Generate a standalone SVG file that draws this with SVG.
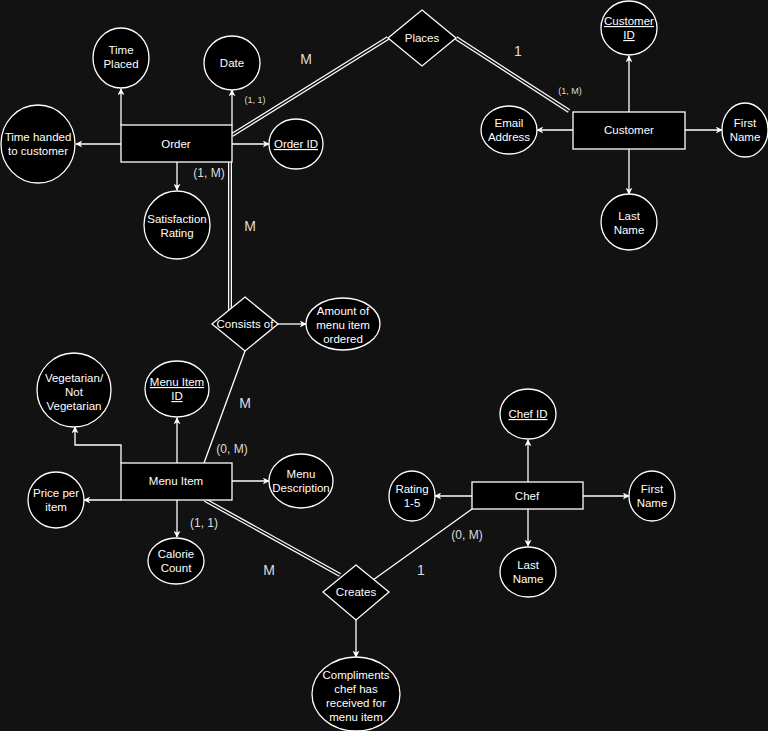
<svg xmlns="http://www.w3.org/2000/svg" width="768" height="731" viewBox="0 0 768 731">
<defs>
<marker id="ar" viewBox="0 0 10 10" refX="9" refY="5" markerWidth="7" markerHeight="7" orient="auto" markerUnits="userSpaceOnUse"><path d="M0,0 L10,5 L0,10 L3,5 Z" fill="#fff"/></marker>
<style>
.s{fill:#000;stroke:#fff;stroke-width:1.3}
.l{stroke:#fff;stroke-width:1.3;fill:none}
.a{stroke:#fff;stroke-width:1.3;fill:none;marker-end:url(#ar)}
.dbo{stroke:#fff;stroke-width:4;fill:none}
.dbi{stroke:#121212;stroke-width:1.5;fill:none}
text{font-family:"Liberation Sans",Arial,sans-serif;font-size:11.5px;fill:#fff;text-anchor:middle}
.u{text-decoration:underline}
.c{fill:#ddd;font-size:12px}
.m{fill:#ddd;font-size:14px}
.sm{fill:#ddd;font-size:9px}
</style>
</defs>
<rect width="768" height="731" fill="#121212"/>
<g id="connectors">
<path class="dbo" d="M232,135 L388,38"/><path class="dbi" d="M232,135 L388,38"/>
<path class="dbo" d="M456,38 L569,111"/><path class="dbi" d="M456,38 L569,111"/>
<path class="dbo" d="M230,162 L230,310"/><path class="dbi" d="M230,162 L230,310"/>
<path class="dbo" d="M205,500 L340,575"/><path class="dbi" d="M205,500 L340,575"/>
<path class="l" d="M245,351 L204,463"/>
<path class="l" d="M472,509 L373,580"/>
<path class="a" d="M121,125 L121,89"/>
<path class="a" d="M232,125 L232,90"/>
<path class="a" d="M121,144 L76,144"/>
<path class="a" d="M232,144 L269,144"/>
<path class="a" d="M177,162 L177,190"/>
<path class="a" d="M629,112 L629,56"/>
<path class="a" d="M573,130 L537,130"/>
<path class="a" d="M685,130 L722,130"/>
<path class="a" d="M629,149 L629,194"/>
<path class="a" d="M278,324 L306,324"/>
<path class="a" d="M121,463 L121,445 L75,445 L75,427"/>
<path class="a" d="M177,463 L177,418"/>
<path class="a" d="M121,500 L84,500"/>
<path class="a" d="M232,481 L269,481"/>
<path class="a" d="M177,500 L177,537"/>
<path class="a" d="M528,482 L528,440"/>
<path class="a" d="M472,496 L435,496"/>
<path class="a" d="M583,496 L629,496"/>
<path class="a" d="M528,509 L528,546"/>
<path class="a" d="M356,620 L356,657"/>
</g>
<g id="labels">
<text class="sm" x="255" y="103">(1, 1)</text>
<text class="c" x="209" y="177">(1, M)</text>
<text class="m" x="306" y="64">M</text>
<text class="m" x="250" y="231">M</text>
<text class="m" x="518" y="56">1</text>
<text class="sm" x="570" y="94">(1, M)</text>
<text class="m" x="245" y="408">M</text>
<text class="c" x="232" y="453">(0, M)</text>
<text class="c" x="204" y="527">(1, 1)</text>
<text class="m" x="269" y="575">M</text>
<text class="c" x="467" y="539">(0, M)</text>
<text class="m" x="421" y="575">1</text>
</g>
<g id="order"><rect class="s" x="121" y="125" width="111" height="37"/><text x="176" y="148">Order</text></g>
<g id="time-placed"><ellipse class="s" cx="121" cy="58" rx="28" ry="30"/><text x="121" y="54">Time</text><text x="121" y="68">Placed</text></g>
<g id="date"><ellipse class="s" cx="232" cy="63" rx="28" ry="27"/><text x="232" y="67">Date</text></g>
<g id="time-handed"><ellipse class="s" cx="38" cy="144" rx="37" ry="39"/><text x="38" y="141">Time handed</text><text x="38" y="155">to customer</text></g>
<g id="order-id"><ellipse class="s" cx="296" cy="144" rx="27" ry="25"/><text class="u" x="296" y="148">Order ID</text></g>
<g id="satisfaction"><ellipse class="s" cx="177" cy="225" rx="33" ry="34"/><text x="177" y="223">Satisfaction</text><text x="177" y="237">Rating</text></g>
<g id="places"><path class="s" d="M422,10 L456,38 L422,66 L388,38 Z"/><text x="422" y="42">Places</text></g>
<g id="customer"><rect class="s" x="573" y="112" width="112" height="37"/><text x="629" y="134">Customer</text></g>
<g id="customer-id"><ellipse class="s" cx="629" cy="28" rx="28" ry="27"/><text class="u" x="629" y="25">Customer</text><text class="u" x="629" y="39">ID</text></g>
<g id="email"><ellipse class="s" cx="509" cy="130" rx="28" ry="24"/><text x="509" y="127">Email</text><text x="509" y="141">Address</text></g>
<g id="cust-first"><ellipse class="s" cx="745" cy="130" rx="23" ry="27"/><text x="745" y="127">First</text><text x="745" y="141">Name</text></g>
<g id="cust-last"><ellipse class="s" cx="629" cy="222" rx="28" ry="28"/><text x="629" y="220">Last</text><text x="629" y="234">Name</text></g>
<g id="consists"><path class="s" d="M245,297 L278,324 L245,351 L212,324 Z"/><text x="245" y="328">Consists of</text></g>
<g id="amount"><ellipse class="s" cx="343" cy="324" rx="37" ry="26"/><text x="343" y="315">Amount of</text><text x="343" y="329">menu item</text><text x="343" y="343">ordered</text></g>
<g id="menu-item"><rect class="s" x="121" y="463" width="111" height="37"/><text x="176" y="485">Menu Item</text></g>
<g id="vegetarian"><ellipse class="s" cx="74" cy="390" rx="37" ry="37"/><text x="74" y="382">Vegetarian/</text><text x="74" y="396">Not</text><text x="74" y="410">Vegetarian</text></g>
<g id="menu-item-id"><ellipse class="s" cx="177" cy="389" rx="32" ry="28"/><text class="u" x="177" y="386">Menu Item</text><text class="u" x="177" y="400">ID</text></g>
<g id="price"><ellipse class="s" cx="56" cy="500" rx="28" ry="28"/><text x="56" y="497">Price per</text><text x="56" y="511">item</text></g>
<g id="menu-desc"><ellipse class="s" cx="301" cy="481" rx="32" ry="27"/><text x="301" y="478">Menu</text><text x="301" y="492">Description</text></g>
<g id="calorie"><ellipse class="s" cx="176" cy="561" rx="28" ry="23"/><text x="176" y="558">Calorie</text><text x="176" y="572">Count</text></g>
<g id="creates"><path class="s" d="M356,565 L389,592 L356,620 L323,592 Z"/><text x="356" y="596">Creates</text></g>
<g id="compliments"><ellipse class="s" cx="356" cy="694" rx="44" ry="37"/><text x="356" y="679">Compliments</text><text x="356" y="693">chef has</text><text x="356" y="707">received for</text><text x="356" y="721">menu item</text></g>
<g id="chef"><rect class="s" x="472" y="482" width="111" height="27"/><text x="527" y="500">Chef</text></g>
<g id="chef-id"><ellipse class="s" cx="528" cy="414" rx="28" ry="25"/><text class="u" x="528" y="418">Chef ID</text></g>
<g id="rating"><ellipse class="s" cx="412" cy="496" rx="23" ry="25"/><text x="412" y="493">Rating</text><text x="412" y="507">1-5</text></g>
<g id="chef-first"><ellipse class="s" cx="652" cy="496" rx="23" ry="25"/><text x="652" y="493">First</text><text x="652" y="507">Name</text></g>
<g id="chef-last"><ellipse class="s" cx="528" cy="572" rx="28" ry="25"/><text x="528" y="569">Last</text><text x="528" y="583">Name</text></g>
</svg>
